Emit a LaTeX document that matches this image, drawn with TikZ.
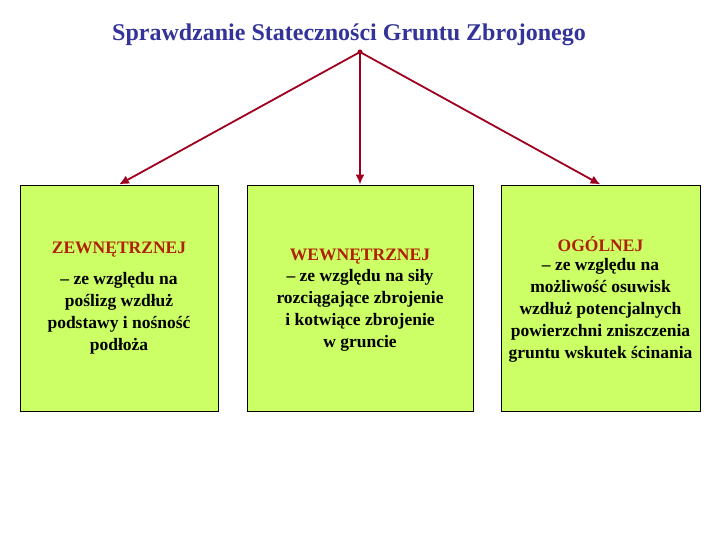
\documentclass[tikz,border=0pt]{standalone}
\usepackage{fontspec}
\setmainfont{Liberation Serif}
\usetikzlibrary{arrows.meta}
\definecolor{titleblue}{HTML}{333399}
\definecolor{headred}{HTML}{B02000}
\definecolor{arrowred}{HTML}{A00020}
\definecolor{boxgreen}{HTML}{CCFF66}
\tikzset{
  box/.style={draw=black, fill=boxgreen, line width=0.9pt, minimum width=#1,
    minimum height=226pt, inner sep=0pt},
  head/.style={text=headred, font=\fontsize{17.5}{20}\selectfont\bfseries},
  body/.style={align=center, font=\fontsize{17.5}{22}\selectfont\bfseries},
  link/.style={draw=arrowred, line width=1.8pt, -{Latex[length=10pt,width=9pt]}}
}
\begin{document}
\begin{tikzpicture}[x=1pt,y=-1pt]
      \useasboundingbox (0,0) rectangle (720,540);
      \node[text=titleblue, font=\fontsize{24}{28}\selectfont\bfseries] (title) at (349,35)
        {Sprawdzanie Stateczności Gruntu Zbrojonego};
      \node[circle, fill=arrowred, inner sep=0pt, minimum size=5pt] (top) at (360,52) {};
      \node[box=198pt] (zew) at (119,298) {};
      \node[box=226pt] (wew) at (360,298) {};
      \node[box=199pt] (ogo) at (600.5,298) {};
      \draw
        (119,250) node[head] (zewhead){ZEWNĘTRZNEJ}
        (119,313.5) node[body] (zewtext){-- ze względu na\\poślizg wzdłuż\\podstawy i nośność\\podłoża}
        (360,257) node[head] (wewhead){WEWNĘTRZNEJ}
        (360,310) node[body] (wewtext){-- ze względu na siły\\rozciągające zbrojenie\\i kotwiące zbrojenie\\w gruncie}
        (600.5,244) node[head] (ogohead){OGÓLNEJ}
        (600.5,310.5) node[body] (ogotext){-- ze względu na\\możliwość osuwisk\\wzdłuż potencjalnych\\powierzchni zniszczenia\\gruntu wskutek ścinania};
      \begin{scope}[link]
        \draw (top.center) to (zew.north);
        \draw (top.center) to (wew.north);
        \draw (top.center) to (ogo.north);
      \end{scope}
    \end{tikzpicture}
\end{document}
